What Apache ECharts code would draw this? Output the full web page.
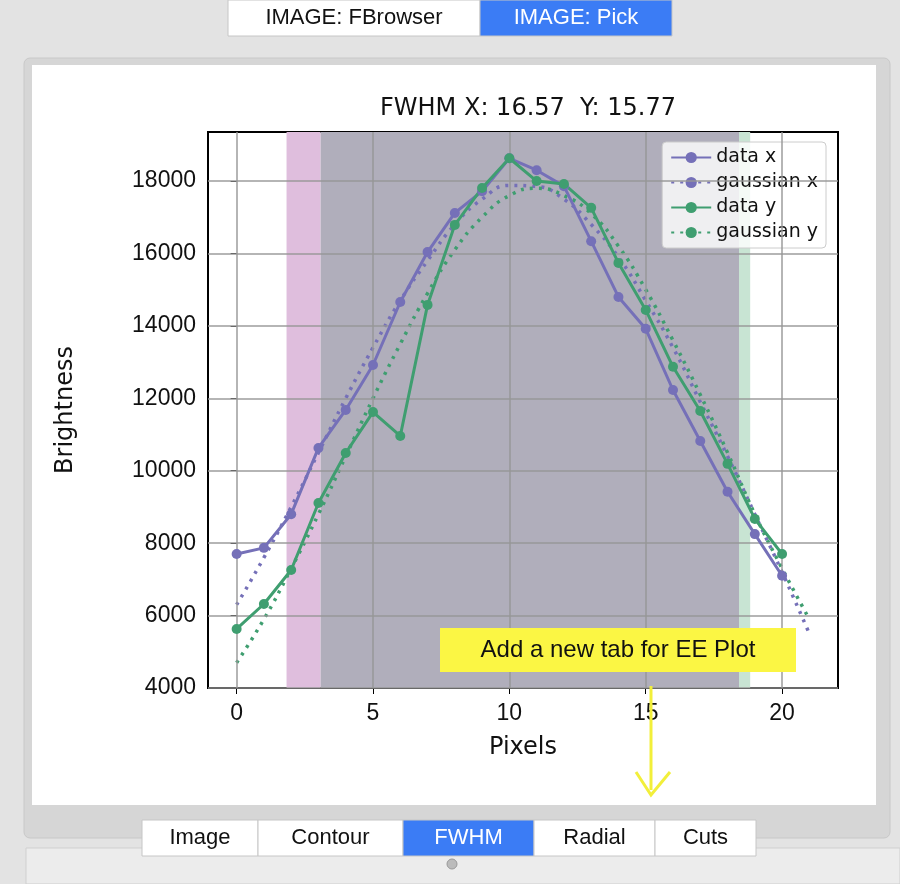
<!DOCTYPE html>
<html>
<head>
<meta charset="utf-8">
<script src="https://cdn.jsdelivr.net/npm/echarts@6/dist/echarts.min.js"></script>
<style>
  html, body { margin: 0; padding: 0; background: #e3e3e3; }
  #chart { width: 900px; height: 884px; }
</style>
</head>
<body>
<div id="chart"></div>
<script>
// 数据
const pixels = [0, 1, 2, 3, 4, 5, 6, 7, 8, 9, 10, 11, 12, 13, 14, 15, 16, 17, 18, 19, 20]
const dataX = [7700, 7870, 8800, 10630, 11680, 12920, 14660, 16040, 17120, 17720, 18630, 18300, 17860, 16340, 14800, 13920, 12230, 10820, 9420, 8250, 7100]
const dataY = [5630, 6320, 7260, 9110, 10490, 11620, 10960, 14580, 16790, 17810, 18630, 18000, 17920, 17260, 15740, 14440, 12870, 11650, 10190, 8670, 7700]
const gaussPixels = [0, 1, 2, 3, 4, 5, 6, 7, 8, 9, 10, 11, 12, 13, 14, 15, 16, 17, 18, 19, 20, 21]
const gaussX = [6300, 7600, 9000, 10500, 12000, 13400, 14700, 15800, 16800, 17500, 17880, 17850, 17500, 16800, 15900, 14700, 13400, 11900, 10400, 8800, 7200, 5500]
const gaussY = [4700, 5900, 7300, 8800, 10400, 12000, 13500, 14900, 16100, 17000, 17600, 17800, 17600, 17100, 16200, 15000, 13600, 12100, 10500, 8800, 7300, 5900]
const bands = [
  { from: 1.83, to: 3.08, color: '#dfbedd' },
  { from: 3.08, to: 18.42, color: '#b0aebb' },
  { from: 18.42, to: 18.83, color: '#c8e4d3' }
]

const purple = '#7570b8'
const green = '#3f9e70'

const chart = echarts.init(document.getElementById('chart'))

const pair = (xs, ys) => xs.map((x, i) => [x, ys[i]])

const tab = (x, y, w, label, active) => ({
  type: 'group',
  children: [
    { type: 'rect', shape: { x, y, width: w, height: 36 },
      style: { fill: active ? '#3b7cf5' : '#fff', stroke: '#c6c6c6' } },
    { type: 'text', style: { x: x + w / 2, y: y + 18, text: label, fill: active ? '#fff' : '#111',
      font: '22px "Liberation Sans", sans-serif', align: 'center', verticalAlign: 'middle' } }
  ]
})

const option = {
  animation: false,
  backgroundColor: '#e3e3e3',
  title: {
    text: 'FWHM X: 16.57  Y: 15.77',
    left: 523, top: 92, textAlign: 'center',
    textStyle: { fontSize: 24, fontWeight: 'normal', color: '#111', fontFamily: 'DejaVu Sans' }
  },
  graphic: [
    { type: 'rect', z: -10, shape: { x: 24, y: 58, width: 866, height: 780, r: 6 }, style: { fill: '#d6d6d6', stroke: '#c8c8c8' } },
    { type: 'rect', z: -9, shape: { x: 32, y: 65, width: 844, height: 740 }, style: { fill: '#fff' } },
    { type: 'rect', z: -10, shape: { x: 26, y: 848, width: 874, height: 36 }, style: { fill: '#ececec', stroke: '#cfcfcf' } },
    tab(228, 0, 252, 'IMAGE: FBrowser', false),
    tab(480, 0, 192, 'IMAGE: Pick', true),
    tab(142, 820, 116, 'Image', false),
    tab(258, 820, 145, 'Contour', false),
    tab(403, 820, 131, 'FWHM', true),
    tab(534, 820, 121, 'Radial', false),
    tab(655, 820, 101, 'Cuts', false),
    { type: 'circle', shape: { cx: 452, cy: 864, r: 5 }, style: { fill: '#bbb', stroke: '#999' } },
    { type: 'polyline', z: 20, shape: { points: [[651, 686], [651, 790]] }, style: { stroke: '#f2ef3a', lineWidth: 3 } },
    { type: 'polyline', z: 20, shape: { points: [[636, 772], [651, 795], [670, 772]] }, style: { stroke: '#f2ef3a', lineWidth: 3, fill: null } },
    { type: 'rect', z: 20, shape: { x: 440, y: 628, width: 356, height: 44 }, style: { fill: '#fbf644' } },
    { type: 'text', z: 21, style: { x: 618, y: 650, text: 'Add a new tab for EE Plot', fill: '#111',
      font: '24px "Liberation Sans", sans-serif', align: 'center', verticalAlign: 'middle' } }
  ],
  grid: { left: 208, top: 132, width: 630, height: 556, show: true, backgroundColor: '#fff', borderColor: '#000', borderWidth: 2 },
  legend: {
    right: 74, top: 142, orient: 'vertical', itemGap: 6, itemWidth: 40, itemHeight: 14,
    backgroundColor: 'rgba(255,255,255,0.8)', borderColor: '#ccc', borderWidth: 1, borderRadius: 4, padding: [6, 8],
    textStyle: { fontSize: 19, color: '#111', fontFamily: 'DejaVu Sans' },
    data: ['data x', 'gaussian x', 'data y', 'gaussian y']
  },
  xAxis: {
    type: 'value', min: -1.05, max: 22.05, interval: 5,
    name: 'Pixels', nameLocation: 'middle', nameGap: 48,
    nameTextStyle: { fontSize: 24, color: '#111', fontFamily: 'DejaVu Sans' },
    axisLine: { show: false },
    axisTick: { show: true, length: 6, lineStyle: { color: '#000' }, customValues: [0, 5, 10, 15, 20] },
    axisLabel: { fontSize: 23, color: '#111', fontFamily: 'Liberation Sans', margin: 14, customValues: [0, 5, 10, 15, 20] },
    splitLine: { show: false }
  },
  yAxis: {
    type: 'value', min: 4000, max: 19355, interval: 2000,
    name: 'Brightness', nameLocation: 'middle', nameGap: 130,
    nameTextStyle: { fontSize: 24, color: '#111', fontFamily: 'DejaVu Sans' },
    axisLine: { show: false },
    axisTick: { show: true, length: 6, lineStyle: { color: '#000' } },
    axisLabel: { fontSize: 23, color: '#111', fontFamily: 'Liberation Sans', margin: 12, showMaxLabel: false, formatter: v => String(v) },
    splitLine: { show: false }
  },
  series: [
    {
      name: 'bands', type: 'line', data: [], silent: true,
      markArea: { silent: true, data: bands.map(b => [{ xAxis: b.from, itemStyle: { color: b.color } }, { xAxis: b.to }]) },
      markLine: {
        silent: true, symbol: 'none', label: { show: false },
        lineStyle: { color: 'rgba(150,150,150,0.7)', type: 'solid', width: 2 },
        data: [0, 5, 10, 15, 20].map(v => ({ xAxis: v })).concat([4000, 6000, 8000, 10000, 12000, 14000, 16000, 18000].map(v => ({ yAxis: v })))
      }
    },
    { name: 'data x', type: 'line', data: pair(pixels, dataX), color: purple, symbol: 'circle', symbolSize: 10, lineStyle: { width: 3 }, z: 5 },
    { name: 'gaussian x', type: 'line', data: pair(gaussPixels, gaussX), color: purple, symbol: 'none', smooth: true, lineStyle: { width: 3.5, type: [3, 6] }, z: 4 },
    { name: 'data y', type: 'line', data: pair(pixels, dataY), color: green, symbol: 'circle', symbolSize: 10, lineStyle: { width: 3 }, z: 5 },
    { name: 'gaussian y', type: 'line', data: pair(gaussPixels, gaussY), color: green, symbol: 'none', smooth: true, lineStyle: { width: 3.5, type: [3, 6] }, z: 4 }
  ]
}

chart.setOption(option)
</script>
</body>
</html>
